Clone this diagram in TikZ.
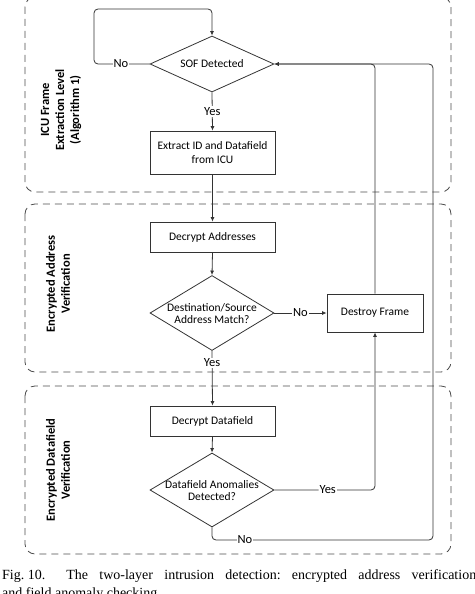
\documentclass[tikz,border=0pt]{standalone}
\usepackage{fontspec}
\setmainfont{Carlito}
\newfontfamily\capfont{Liberation Serif}
\usetikzlibrary{shapes.geometric,arrows.meta}
\newcommand{\dtext}[2][0pt]{\smash{\makebox[0pt]{\raisebox{#1}{\shortstack{#2}}}}}
\begin{document}
\begin{tikzpicture}[x=1pt,y=-1pt,
  line/.style={draw=black!80, line width=0.8pt},
  arr/.style={line, -{Latex[length=4.5pt,width=4pt]}},
  proc/.style={draw=black!80, line width=0.8pt, rectangle, minimum width=125pt, inner sep=0pt, align=center, font=\fontsize{11.5}{14}\selectfont},
  dec/.style={draw=black!80, line width=0.8pt, diamond, minimum width=124pt, inner sep=0pt, font=\fontsize{11.5}{14}\selectfont},
  region/.style={draw=black!70, line width=0.8pt, dash pattern=on 7pt off 5pt, rounded corners=10pt},
  rlabel/.style={rotate=90, align=center, font=\bfseries\fontsize{12.5}{15}\selectfont},
  lab/.style={fill=white, inner sep=1pt, font=\fontsize{12.5}{14}\selectfont},
  rc/.style={rounded corners=4pt},
  captxt/.style={anchor=base west, inner sep=0pt, font=\capfont\fontsize{14}{16}\selectfont\frenchspacing}
]
\useasboundingbox (0,0) rectangle (474,594);
\clip (0,0) rectangle (474,594);

% regions
\draw[region] (25,-3) rectangle (451,192);
\draw[region] (25,204) rectangle (451,372);
\draw[region] (25,386) rectangle (451,554);

\node[rlabel] (l1) at (61,110) {ICU Frame\\Extraction Level\\(Algorithm 1)};
\node[rlabel] (l2) at (58,284) {Encrypted Address\\Verification};
\node[rlabel] (l3) at (58,470) {Encrypted Datafield\\Verification};

% nodes
\node[dec, minimum height=56pt] (sof) at (212,64) {\dtext[-3pt]{SOF Detected}};
\node[proc, minimum height=43pt] (extract) at (212.5,152.5) {Extract ID and Datafield\\from ICU};
\node[proc, minimum height=30pt] (decA) at (212.5,237) {Decrypt Addresses};
\node[dec, minimum height=75pt] (match) at (212,313) {\dtext[-10pt]{Destination/Source\\Address Match?}};
\node[proc, minimum width=96pt, minimum height=38pt] (destroy) at (375,313) {Destroy Frame};
\node[proc, minimum height=30pt] (decD) at (212.5,421) {Decrypt Datafield};
\node[dec, minimum height=74pt] (anom) at (212,490) {\dtext[-10pt]{Datafield Anomalies\\Detected?}};

\coordinate (loopL) at (94,9);
\coordinate (nb) at (433,540);
\coordinate (yb) at (375,490);

% connectors
\draw[arr,rc] (sof.west) -| (loopL) -| (sof.north);
\node[lab] (no1) at (121,64) {No};
\draw[arr] (sof.south) -- node[lab] (yes1) {Yes} (extract.north);
\draw[arr] (extract.south) -- (decA.north);
\draw[arr] (decA.south) -- (match.north);
\draw[arr] (match.south) -- node[lab, pos=0.22] (yes2) {Yes} (decD.north);
\draw[arr] (decD.south) -- (anom.north);
\draw[arr] (match.east) -- node[lab] (no2) {No} (destroy.west);
\draw[arr,rc] (anom.east) -- node[lab, pos=0.53] (yes3) {Yes} (yb) -- (destroy.south);
\draw[arr,rc] (destroy.north) |- (sof.east);
\draw[arr,rc] (anom.south) |- (nb) |- (sof.east);
\node[lab] (no3) at (245,540) {No};

% caption
\node[captxt] (cap1) at (2,579)
  {\makebox[474pt][s]{\hbox{Fig.\ 10.}\hspace{1.5em}The two-layer intrusion detection: encrypted address verification}};
\node[captxt] (cap2) at (2,597) {and field anomaly checking.};
\end{tikzpicture}
\end{document}
